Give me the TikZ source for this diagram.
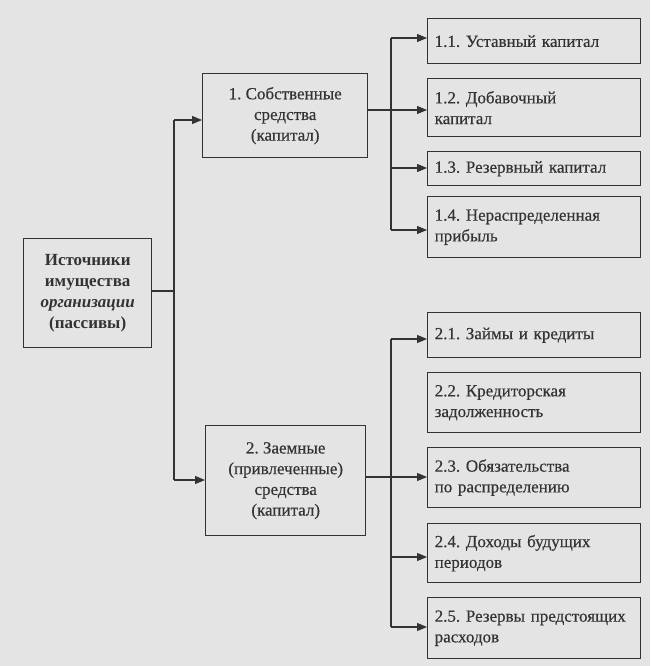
\documentclass[tikz,border=0pt]{standalone}
\usepackage{fontspec}
\setmainfont{Liberation Serif}[UprightFeatures={FakeBold=0.4}]
\usetikzlibrary{arrows.meta}
\definecolor{paper}{HTML}{E4E4E4}
\definecolor{ink}{HTML}{333333}
\begin{document}
\frenchspacing
\begin{tikzpicture}[x=1pt,y=-1pt,
  every node/.style={font=\fontsize{17}{20.7}\selectfont, text=ink},
  box/.style={draw=ink, line width=1.4pt, anchor=north west, inner sep=0pt},
  rbox/.style={box, align=left, text width=199pt, inner xsep=7pt, minimum width=213pt},
  cbox/.style={box, align=center},
  conn/.style={draw=ink, line width=1.1pt},
  arr/.style={conn, -{Triangle[length=10pt,width=8pt]}}]
\useasboundingbox[fill=paper] (0,0) rectangle (650,666);
% root
\node[cbox, minimum width=128pt, minimum height=109pt] (root) at (23,238)
  {\bfseries Источники\\ \bfseries имущества\\ \bfseries\itshape организации\\ \bfseries (пассивы)};
% level 1
\node[cbox, minimum width=165pt, minimum height=84pt] (b1) at (202,73)
  {1. Собственные\\ средства\\ (капитал)};
\node[cbox, minimum width=160pt, minimum height=110pt] (b2) at (205,425)
  {2. Заемные\\ (привлеченные)\\ средства\\ (капитал)};
% right boxes
\node[rbox, minimum height=45pt] (r11) at (427,18) {1.1. Уставный капитал};
\node[rbox, minimum height=58pt] (r12) at (427,78) {1.2. Добавочный\\ капитал};
\node[rbox, minimum height=34pt] (r13) at (427,151) {1.3. Резервный капитал};
\node[rbox, minimum height=61pt] (r14) at (427,196) {1.4. Нераспределенная\\ прибыль};
\node[rbox, minimum height=45pt] (r21) at (427,312) {2.1. Займы и кредиты};
\node[rbox, minimum height=60pt] (r22) at (427,372) {2.2. Кредиторская\\ задолженность};
\node[rbox, minimum height=60pt] (r23) at (427,447) {2.3. Обязательства\\ по распределению};
\node[rbox, minimum height=59pt] (r24) at (427,523) {2.4. Доходы будущих\\ периодов};
\node[rbox, minimum height=61pt] (r25) at (427,597) {2.5. Резервы предстоящих\\ расходов};
% junction coordinates
\coordinate (j0) at (174,291);
\coordinate (ja) at (174,120);
\coordinate (jb) at (174,480);
\coordinate (k1) at (391,110);
\coordinate (k11) at (391,38);
\coordinate (k13) at (391,168);
\coordinate (k14) at (391,230);
\coordinate (k2) at (391,477);
\coordinate (k21) at (391,339);
\coordinate (k24) at (391,557);
\coordinate (k25) at (391,627);
% root connectors
\draw[conn] (root.east |- j0) -- (j0);
\draw[conn] (ja) -- (jb);
\draw[arr] (ja) -- (ja -| b1.west);
\draw[arr] (jb) -- (jb -| b2.west);
% group 1
\draw[arr] (b1.east |- k1) -- (k1 -| r12.west);
\draw[conn] (k11) -- (k14);
\draw[arr] (k11) -- (k11 -| r11.west);
\draw[arr] (k13) -- (k13 -| r13.west);
\draw[arr] (k14) -- (k14 -| r14.west);
% group 2
\draw[arr] (b2.east |- k2) -- (k2 -| r23.west);
\draw[conn] (k21) -- (k25);
\draw[arr] (k21) -- (k21 -| r21.west);
\draw[arr] (k24) -- (k24 -| r24.west);
\draw[arr] (k25) -- (k25 -| r25.west);
\end{tikzpicture}
\end{document}
